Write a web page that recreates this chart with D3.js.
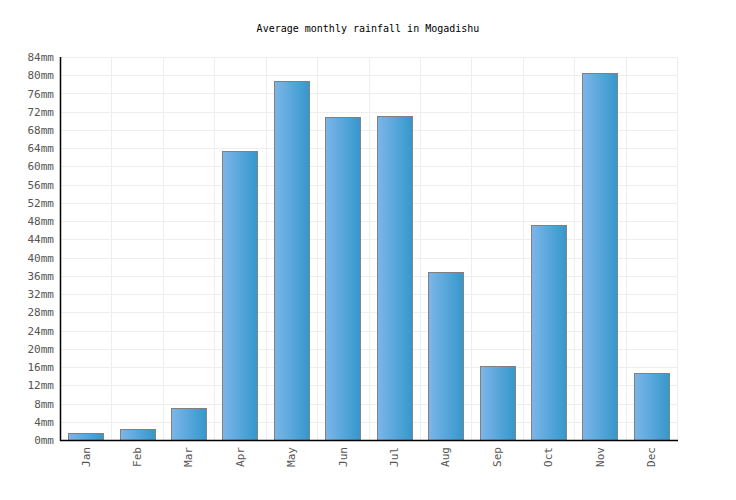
<!DOCTYPE html>
<html>
<head>
<meta charset="utf-8">
<script src="https://cdn.jsdelivr.net/npm/d3@7"></script>
<style>
  body { margin: 0; background: #fff; }
  text { font-family: "DejaVu Sans Mono", monospace; }
</style>
</head>
<body>
<svg id="chart"></svg>
<script>
const months = ["Jan", "Feb", "Mar", "Apr", "May", "Jun", "Jul", "Aug", "Sep", "Oct", "Nov", "Dec"];
const rainfall = [1.5, 2.4, 7.0, 63.4, 78.8, 70.8, 71.1, 36.8, 16.2, 47.1, 80.6, 14.8];
const yTicks = d3.range(0, 85, 4);

const W = 736, H = 500;
const margin = { top: 57, right: 59, bottom: 60, left: 60 };
const width = W - margin.left - margin.right;
const height = H - margin.top - margin.bottom;

const svg = d3.select("#chart").attr("width", W).attr("height", H);

// gradient for the bars
const grad = svg.append("defs").append("linearGradient")
  .attr("id", "barGrad").attr("x1", "0%").attr("x2", "100%").attr("y1", "0%").attr("y2", "0%");
grad.append("stop").attr("offset", "0%").attr("stop-color", "#7cb6ea");
grad.append("stop").attr("offset", "100%").attr("stop-color", "#3597cb");

svg.append("text")
  .attr("x", W / 2).attr("y", 32)
  .attr("text-anchor", "middle")
  .style("font-size", "10px")
  .attr("fill", "#000")
  .text("Average monthly rainfall in Mogadishu");

const g = svg.append("g").attr("transform", `translate(${margin.left}, ${margin.top})`);

const x = d3.scaleBand().domain(months).range([0, width]).paddingInner(0.32).paddingOuter(0.16);
const y = d3.scaleLinear().domain([0, 84]).range([height, 0]);

// grid
const step = width / months.length;
g.append("g").selectAll("line.h").data(yTicks).join("line")
  .attr("x1", 0).attr("x2", width)
  .attr("y1", d => Math.round(y(d)) + 0.5).attr("y2", d => Math.round(y(d)) + 0.5)
  .attr("stroke", "#eeeeee");
g.append("g").selectAll("line.v").data(d3.range(1, months.length + 1)).join("line")
  .attr("x1", d => Math.round(d * step) + 0.5).attr("x2", d => Math.round(d * step) + 0.5)
  .attr("y1", 0).attr("y2", height)
  .attr("stroke", "#eeeeee");

// bars
g.selectAll("rect.bar").data(rainfall).join("rect")
  .attr("class", "bar")
  .attr("x", (d, i) => Math.round(x(months[i])) + 0.5)
  .attr("y", d => Math.round(y(d)) + 0.5)
  .attr("width", x.bandwidth())
  .attr("height", d => height - Math.round(y(d)))
  .attr("fill", "url(#barGrad)")
  .attr("stroke", "#808080")
  .attr("stroke-width", 1);

// axes
const yAxis = g.append("g")
  .call(d3.axisLeft(y).tickValues(yTicks).tickSize(0).tickPadding(6).tickFormat(d => d + "mm"));
yAxis.select(".domain").remove();
yAxis.selectAll("text").style("font-size", "11px").attr("fill", "#555");

const xAxis = g.append("g")
  .attr("transform", `translate(0, ${height})`)
  .call(d3.axisBottom(x).tickSize(0).tickPadding(0));
xAxis.select(".domain").remove();
xAxis.selectAll("text")
  .style("font-size", "11px").attr("fill", "#555")
  .attr("transform", "rotate(-90)")
  .attr("x", -7).attr("y", 0).attr("dy", "0.35em")
  .attr("text-anchor", "end");

g.append("line").attr("x1", 0.5).attr("x2", 0.5).attr("y1", 0).attr("y2", height + 1)
  .attr("stroke", "#000").attr("stroke-width", 1.5);
g.append("line").attr("x1", 0).attr("x2", width + 1).attr("y1", height + 0.5).attr("y2", height + 0.5)
  .attr("stroke", "#000").attr("stroke-width", 1.5);
</script>
</body>
</html>
